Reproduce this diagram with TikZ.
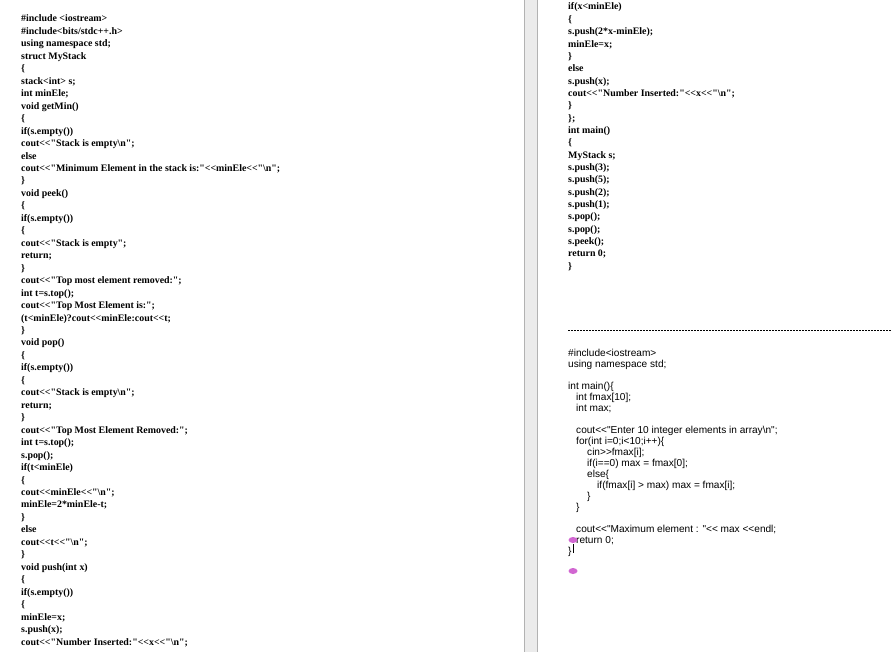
\documentclass[tikz,border=0pt]{standalone}
\usepackage{fontspec}
\setmainfont{Liberation Serif}[Ligatures=TeXOff]
\newfontfamily\arialf{Liberation Sans}[Ligatures=TeXOff]
\begin{document}
\begin{tikzpicture}[x=1pt,y=-1pt,
  codeline/.style={anchor=base west,inner sep=0pt,font=\fontsize{9.9}{12}\selectfont\bfseries},
  sansline/.style={anchor=base west,inner sep=0pt,font=\arialf\fontsize{10.1}{11}\selectfont}]
\useasboundingbox (0,0) rectangle (892,652);
\fill[white] (0,0) rectangle (892,652);
\fill[black!8] (524,0) rectangle (537,652);
\draw[black!30] (524,0) -- (524,652);
\draw[black!30] (537,0) -- (537,652);
\def\L#1#2#3{\node[codeline] (#1) at (21,{22+12.46*(#2-1)}) {#3};}
\L{a1}{1}{\#include <iostream>}
\L{a2}{2}{\#include<bits/stdc++.h>}
\L{a3}{3}{using namespace std;}
\L{a4}{4}{struct MyStack}
\L{a5}{5}{\{}
\L{a6}{6}{stack<int> s;}
\L{a7}{7}{int minEle;}
\L{a8}{8}{void getMin()}
\L{a9}{9}{\{}
\L{a10}{10}{if(s.empty())}
\L{a11}{11}{cout<<"Stack is empty\textbackslash n";}
\L{a12}{12}{else}
\L{a13}{13}{cout<<"Minimum Element in the stack is:"<<minEle<<"\textbackslash n";}
\L{a14}{14}{\}}
\L{a15}{15}{void peek()}
\L{a16}{16}{\{}
\L{a17}{17}{if(s.empty())}
\L{a18}{18}{\{}
\L{a19}{19}{cout<<"Stack is empty";}
\L{a20}{20}{return;}
\L{a21}{21}{\}}
\L{a22}{22}{cout<<"Top most element removed:";}
\L{a23}{23}{int t=s.top();}
\L{a24}{24}{cout<<"Top Most Element is:";}
\L{a25}{25}{(t<minEle)?cout<<minEle:cout<<t;}
\L{a26}{26}{\}}
\L{a27}{27}{void pop()}
\L{a28}{28}{\{}
\L{a29}{29}{if(s.empty())}
\L{a30}{30}{\{}
\L{a31}{31}{cout<<"Stack is empty\textbackslash n";}
\L{a32}{32}{return;}
\L{a33}{33}{\}}
\L{a34}{34}{cout<<"Top Most Element Removed:";}
\L{a35}{35}{int t=s.top();}
\L{a36}{36}{s.pop();}
\L{a37}{37}{if(t<minEle)}
\L{a38}{38}{\{}
\L{a39}{39}{cout<<minEle<<"\textbackslash n";}
\L{a40}{40}{minEle=2*minEle-t;}
\L{a41}{41}{\}}
\L{a42}{42}{else}
\L{a43}{43}{cout<<t<<"\textbackslash n";}
\L{a44}{44}{\}}
\L{a45}{45}{void push(int x)}
\L{a46}{46}{\{}
\L{a47}{47}{if(s.empty())}
\L{a48}{48}{\{}
\L{a49}{49}{minEle=x;}
\L{a50}{50}{s.push(x);}
\L{a51}{51}{cout<<"Number Inserted:"<<x<<"\textbackslash n";}
\def\R#1#2#3{\node[codeline] (#1) at (568,{10+12.35*(#2-1)}) {#3};}
\R{b1}{1}{if(x<minEle)}
\R{b2}{2}{\{}
\R{b3}{3}{s.push(2*x-minEle);}
\R{b4}{4}{minEle=x;}
\R{b5}{5}{\}}
\R{b6}{6}{else}
\R{b7}{7}{s.push(x);}
\R{b8}{8}{cout<<"Number Inserted:"<<x<<"\textbackslash n";}
\R{b9}{9}{\}}
\R{b10}{10}{\};}
\R{b11}{11}{int main()}
\R{b12}{12}{\{}
\R{b13}{13}{MyStack s;}
\R{b14}{14}{s.push(3);}
\R{b15}{15}{s.push(5);}
\R{b16}{16}{s.push(2);}
\R{b17}{17}{s.push(1);}
\R{b18}{18}{s.pop();}
\R{b19}{19}{s.pop();}
\R{b20}{20}{s.peek();}
\R{b21}{21}{return 0;}
\R{b22}{22}{\}}
\draw[dash pattern=on 2pt off 1pt,line width=0.6pt] (568,330) -- (892,330);
\def\S#1#2#3#4{\node[sansline] (#1) at ({568+#3},{356+11*(#2-1)}) {#4};}
\S{c1}{1}{0}{\#include<iostream>}
\S{c2}{2}{0}{using namespace std;}
\S{c3}{4}{0}{int main()\{}
\S{c4}{5}{8}{int fmax[10];}
\S{c5}{6}{8}{int max;}
\S{c6}{8}{8}{cout<<"Enter 10 integer elements in array\textbackslash n";}
\S{c7}{9}{8}{for(int i=0;i<10;i++)\{}
\S{c8}{10}{19}{cin>>fmax[i];}
\S{c9}{11}{19}{if(i==0) max = fmax[0];}
\S{c10}{12}{19}{else\{}
\S{c11}{13}{29}{if(fmax[i] > max) max = fmax[i];}
\S{c12}{14}{19}{\}}
\S{c13}{15}{8}{\}}
\S{c14}{17}{8}{cout<<"Maximum element : "<< max <<endl;}
\S{c15}{18}{8}{return 0;}
\S{c16}{19}{0}{\}}
\draw (573,544) -- (573,553);
\fill[violet!60!magenta!60] (573,540) ellipse (4.5 and 3);
\fill[violet!60!magenta!60] (573,571) ellipse (4.5 and 3);
\end{tikzpicture}
\end{document}
